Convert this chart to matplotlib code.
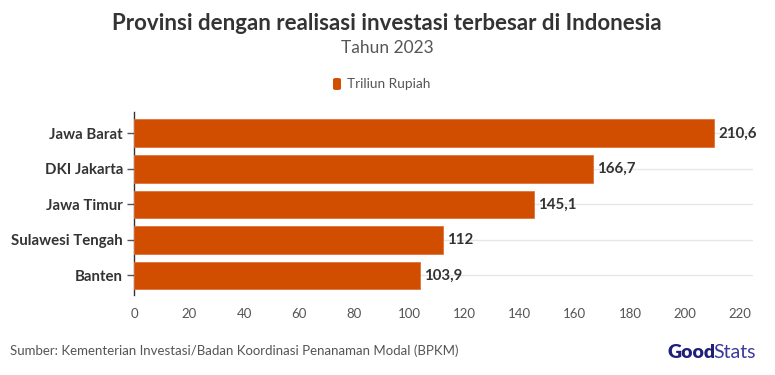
import matplotlib.pyplot as plt
from matplotlib.patches import FancyBboxPatch

plt.rcParams['font.family'] = ['Lato', 'DejaVu Sans']

# data
provinsi = ["Jawa Barat", "DKI Jakarta", "Jawa Timur", "Sulawesi Tengah", "Banten"]
investasi = [210.6, 166.7, 145.1, 112, 103.9]
label_nilai = ["210,6", "166,7", "145,1", "112", "103,9"]
xticks = [0, 20, 40, 60, 80, 100, 120, 140, 160, 180, 200, 220]

bar_color = "#D14E00"
text_dark = "#333333"

fig = plt.figure(figsize=(7.75, 3.75), dpi=100)
W, H = 775, 375
ax = fig.add_axes([134 / W, 1 - 295 / H, (753 - 134) / W, (295 - 112) / H])

y = list(range(len(provinsi)))
ax.barh(y, investasi, height=0.78, color=bar_color, edgecolor="#E0733A",
        linewidth=0.6, zorder=3)
ax.set_yticks(y)
ax.set_yticklabels(provinsi, fontsize=10.8, fontweight="bold", color=text_dark)
ax.invert_yaxis()
ax.set_ylim(len(provinsi) - 0.45, -0.6)
ax.set_xlim(0, 224.7)
ax.set_xticks(xticks)
ax.tick_params(axis="x", length=0, labelsize=9.5, labelcolor="#555555", pad=9)
ax.tick_params(axis="y", length=5, color="#555555", width=1, pad=3)

for i, (v, lab) in enumerate(zip(investasi, label_nilai)):
    ax.text(v + 1.5, i, lab, va="center", ha="left", fontsize=10.8,
            fontweight="bold", color=text_dark, zorder=4)

ax.grid(axis="y", color="#E6E6E6", linewidth=1, zorder=0)
for s in ["top", "right", "bottom"]:
    ax.spines[s].set_visible(False)
ax.spines["left"].set_color("#333333")
ax.spines["left"].set_linewidth(1)

# titles
fig.text(387 / W, 1 - 24 / H, "Provinsi dengan realisasi investasi terbesar di Indonesia",
         ha="center", va="center", fontsize=16, fontweight="bold", color=text_dark)
fig.text(387 / W, 1 - 48 / H, "Tahun 2023", ha="center", va="center",
         fontsize=12.5, color="#555555")

# legend
fig.patches.append(FancyBboxPatch((333 / W, 1 - 90 / H), 8 / W, 12 / H,
                                  boxstyle="round,pad=0,rounding_size=0.004",
                                  transform=fig.transFigure, facecolor=bar_color,
                                  edgecolor="none"))
fig.text(347 / W, 1 - 84 / H, "Triliun Rupiah", ha="left", va="center",
         fontsize=9.8, color="#555555")

# source & logo
fig.text(10 / W, 1 - 351 / H, "Sumber: Kementerian Investasi/Badan Koordinasi Penanaman Modal (BPKM)",
         ha="left", va="center", fontsize=9.5, color="#555555")
fig.text(667 / W, 1 - 353 / H, "Good", ha="left", va="center", fontsize=14,
         fontweight="heavy", color="#1F1F7A")
fig.text(713 / W, 1 - 353 / H, "Stats", ha="left", va="center", fontsize=14,
         color="#3A3A9A")

fig.savefig("out.png", dpi=100)
